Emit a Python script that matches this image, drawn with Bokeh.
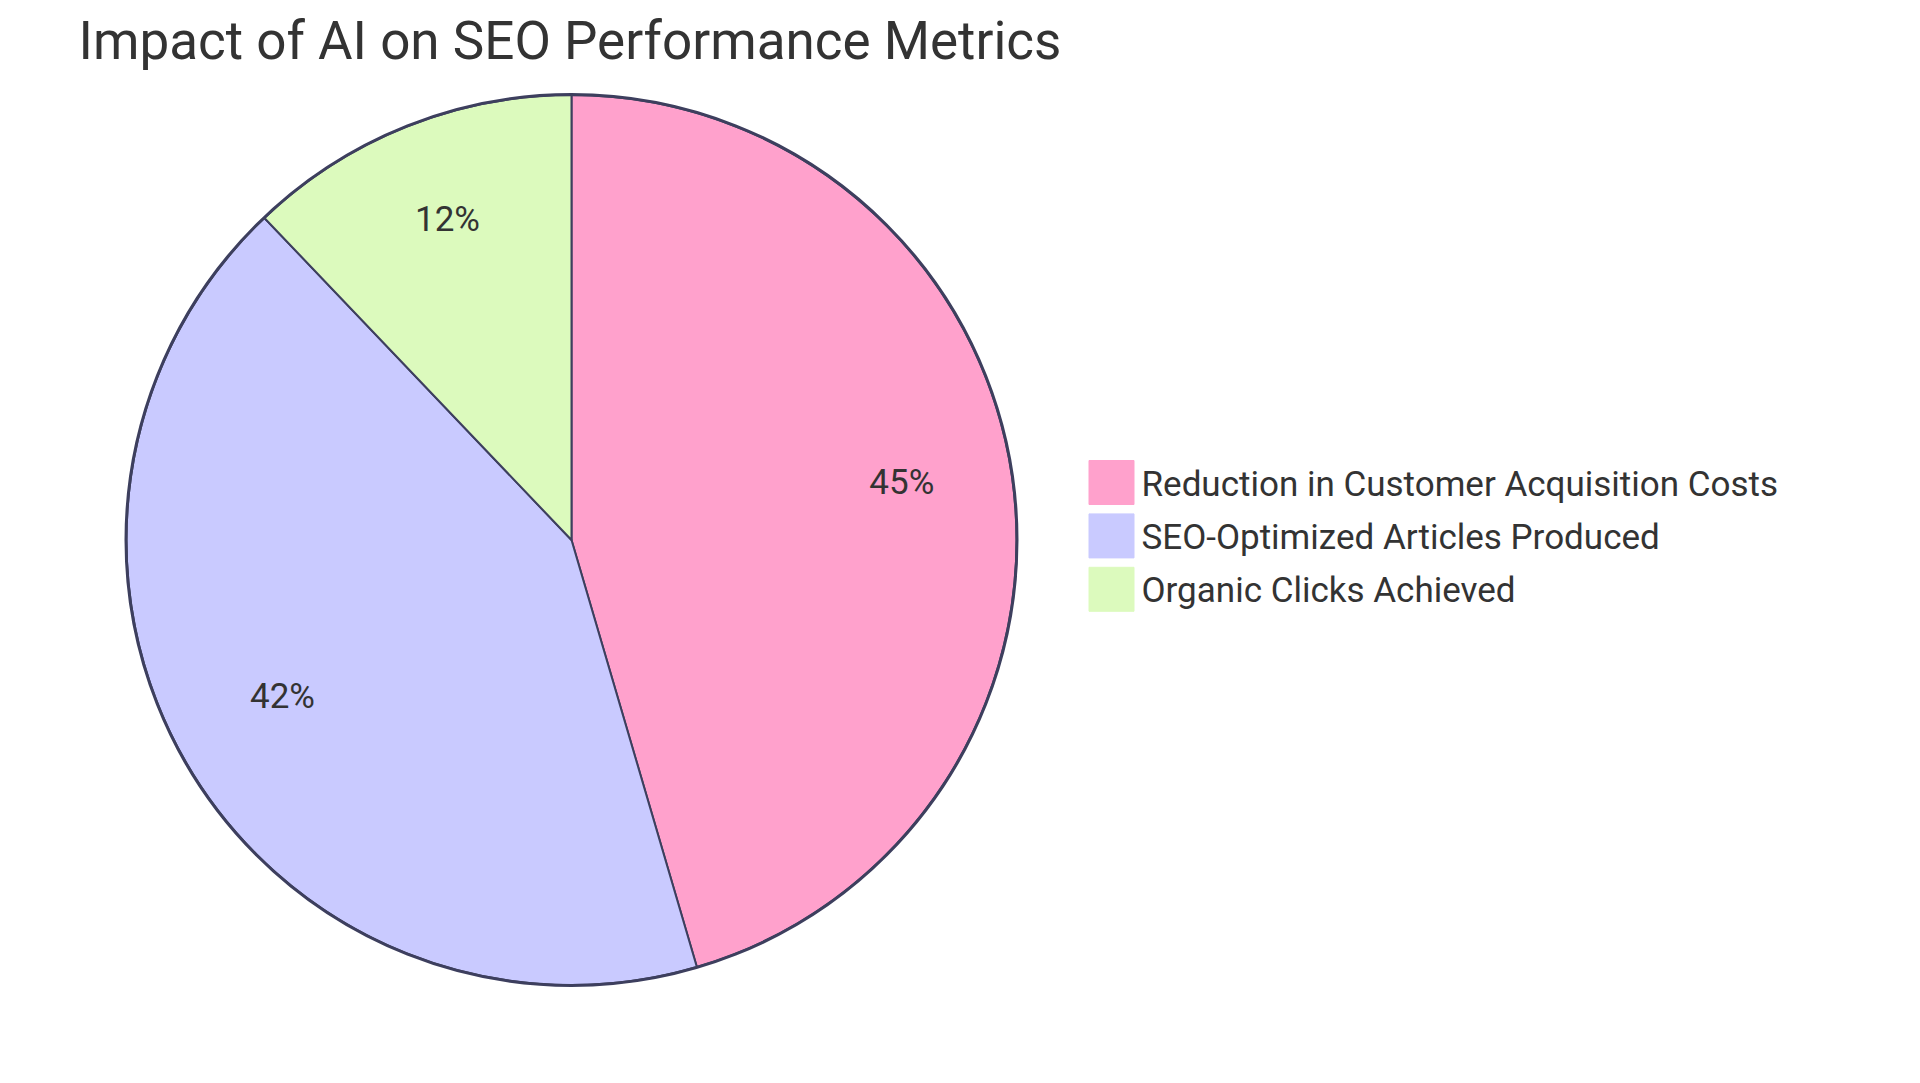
import math
from bokeh.plotting import figure
from bokeh.models import Range1d, ColumnDataSource
from bokeh.core.properties import value
from bokeh.embed import file_html
from bokeh.resources import INLINE

# ---- data ----
categories = ["Reduction in Customer Acquisition Costs", "SEO-Optimized Articles Produced", "Organic Clicks Achieved"]
values = [45, 42, 12]
colors = ["#FFA1CC", "#C9CAFF", "#DCFABD"]
title_text = "Impact of AI on SEO Performance Metrics"

W, H = 1904, 1067
FONT = "Roboto"
TEXT_COLOR = "#333333"
STROKE = "#3D3F5E"

p = figure(width=W, height=H, x_range=Range1d(0, W), y_range=Range1d(0, H),
           x_axis_type=None, y_axis_type=None, toolbar_location=None,
           output_backend="svg", min_border=0)
p.outline_line_color = None
p.grid.visible = False
p.background_fill_color = "white"

def sx(x):
    return x

def sy(y):
    return H - y

# empirical baseline correction (fraction of font size)
BL = 0.37

cx, cy, r = sx(571), sy(539.5), 445

total = sum(values)
starts, ends, lx, ly, labels = [], [], [], [], []
a = math.pi / 2
LFS = 35
for v in values:
    span = v / total * 2 * math.pi
    starts.append(a)
    ends.append(a - span)
    mid = a - span / 2
    lx.append(cx + 0.75 * r * math.cos(mid))
    ly.append(cy + 0.75 * r * math.sin(mid) + BL * LFS * 0.8)
    labels.append(f"{round(v / total * 100)}%")
    a -= span

src = ColumnDataSource(dict(start=starts, end=ends, color=colors, cat=categories))
p.wedge(x=cx, y=cy, radius=r, start_angle="start", end_angle="end", direction="clock",
        fill_color="color", line_color=STROKE, line_width=2, source=src)
p.circle(x=[cx], y=[cy], radius=r + 0.5, fill_color=None, line_color=STROKE, line_width=3)

p.text(x=lx, y=ly, text=labels, text_font=value(FONT), text_font_size=f"{LFS}px",
       text_color=TEXT_COLOR, text_align="center", text_baseline="alphabetic")

# title
TFS = 53
p.text(x=[sx(78)], y=[sy(60) + BL * TFS], text=[title_text], text_font=value(FONT),
       text_font_size=f"{TFS}px", text_color=TEXT_COLOR, text_align="left",
       text_baseline="alphabetic")

# legend
GFS = 35
leg_c = [482 + i * 53.4 for i in range(len(categories))]
p.rect(x=[sx(1111)] * len(categories), y=[sy(c) for c in leg_c], width=45, height=44,
       fill_color=colors, line_color=colors, line_width=1)
p.text(x=[sx(1141)] * len(categories), y=[sy(c + 14.5) + BL * GFS for c in leg_c],
       text=categories, text_font=value(FONT), text_font_size=f"{GFS}px",
       text_color=TEXT_COLOR, text_align="left", text_baseline="alphabetic")

open("out.html", "w").write(file_html(p, INLINE))
